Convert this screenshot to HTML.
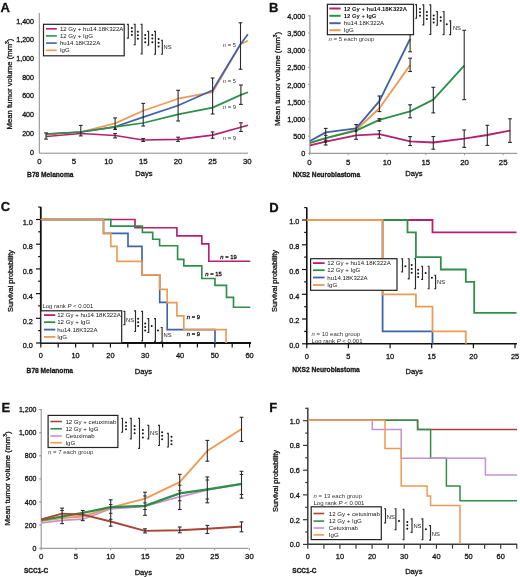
<!DOCTYPE html>
<html><head><meta charset="utf-8"><style>
html,body{margin:0;padding:0;background:#fff;width:520px;height:577px;overflow:hidden}
svg{display:block;will-change:transform}
text{font-family:"Liberation Sans", sans-serif;stroke:#111;stroke-width:0.3px}
.light{stroke:none}
.thin{stroke-width:0.12px}
</style></head><body>
<svg width="520" height="577" viewBox="0 0 520 577">
<rect width="520" height="577" fill="#fff"/>
<text x="0.6" y="11.6" font-size="13" text-anchor="start" font-weight="bold" font-style="normal" fill="#111">A</text>
<line x1="39.3" y1="13.0" x2="39.3" y2="153.2" stroke="#8a8a8a" stroke-width="1"/>
<line x1="39.3" y1="153.2" x2="248.0" y2="153.2" stroke="#8a8a8a" stroke-width="1"/>
<text x="34.0" y="154.5" font-size="7.1" text-anchor="end" font-weight="normal" font-style="normal" fill="#222222">0</text>
<text x="34.0" y="135.8" font-size="7.1" text-anchor="end" font-weight="normal" font-style="normal" fill="#222222">200</text>
<text x="34.0" y="117.1" font-size="7.1" text-anchor="end" font-weight="normal" font-style="normal" fill="#222222">400</text>
<text x="34.0" y="98.3" font-size="7.1" text-anchor="end" font-weight="normal" font-style="normal" fill="#222222">600</text>
<text x="34.0" y="79.6" font-size="7.1" text-anchor="end" font-weight="normal" font-style="normal" fill="#222222">800</text>
<text x="34.0" y="60.9" font-size="7.1" text-anchor="end" font-weight="normal" font-style="normal" fill="#222222">1,000</text>
<text x="34.0" y="42.2" font-size="7.1" text-anchor="end" font-weight="normal" font-style="normal" fill="#222222">1,200</text>
<text x="34.0" y="23.5" font-size="7.1" text-anchor="end" font-weight="normal" font-style="normal" fill="#222222">1,400</text>
<text x="39.3" y="164.1" font-size="7.8" text-anchor="middle" font-weight="normal" font-style="normal" fill="#222222">0</text>
<text x="74.0" y="164.1" font-size="7.8" text-anchor="middle" font-weight="normal" font-style="normal" fill="#222222">5</text>
<text x="108.6" y="164.1" font-size="7.8" text-anchor="middle" font-weight="normal" font-style="normal" fill="#222222">10</text>
<text x="143.3" y="164.1" font-size="7.8" text-anchor="middle" font-weight="normal" font-style="normal" fill="#222222">15</text>
<text x="178.0" y="164.1" font-size="7.8" text-anchor="middle" font-weight="normal" font-style="normal" fill="#222222">20</text>
<text x="212.6" y="164.1" font-size="7.8" text-anchor="middle" font-weight="normal" font-style="normal" fill="#222222">25</text>
<text x="247.3" y="164.1" font-size="7.8" text-anchor="middle" font-weight="normal" font-style="normal" fill="#222222">30</text>
<text x="27.1" y="176.5" font-size="7.2" text-anchor="start" font-weight="bold" font-style="normal" fill="#222222" textLength="46.4" lengthAdjust="spacingAndGlyphs">B78 Melanoma</text>
<text x="144.0" y="175.7" font-size="7.6" text-anchor="middle" font-weight="normal" font-style="normal" fill="#222222">Days</text>
<text transform="translate(9.0,84.0) rotate(-90)" x="0" y="2.7" font-size="7.7" text-anchor="middle" fill="#222222">Mean tumor volume (mm<tspan font-size="5" dy="-2.5">3</tspan><tspan dy="2.5">)</tspan></text>
<polyline points="46.0,136.5 80.8,133.5 115.1,135.5 143.2,140.0 178.1,139.3 212.6,135.1 240.9,127.3 248.0,125.2" fill="none" stroke="#b62070" stroke-width="1.7" stroke-linejoin="round"/>
<polyline points="46.0,135.0 80.8,132.0 115.1,123.4 143.2,110.8 178.1,98.7 212.6,92.2 240.5,44.3 247.9,40.7" fill="none" stroke="#ec9a55" stroke-width="1.7" stroke-linejoin="round"/>
<polyline points="46.0,134.0 80.8,132.0 115.1,126.8 143.2,117.1 178.1,105.5 212.6,90.3 240.5,44.3 247.9,34.2" fill="none" stroke="#3f62a8" stroke-width="1.7" stroke-linejoin="round"/>
<polyline points="46.0,134.0 80.8,132.0 115.1,126.8 143.2,123.0 178.1,114.4 212.6,107.6 240.9,94.9 248.0,92.2" fill="none" stroke="#2e9048" stroke-width="1.7" stroke-linejoin="round"/>
<circle cx="115.1" cy="128.6" r="1.2" fill="#222"/>
<line x1="46.0" y1="132.9" x2="46.0" y2="139.1" stroke="#2a2a2a" stroke-width="1.1"/>
<line x1="44.1" y1="132.9" x2="47.9" y2="132.9" stroke="#2a2a2a" stroke-width="1.1"/>
<line x1="44.1" y1="139.1" x2="47.9" y2="139.1" stroke="#2a2a2a" stroke-width="1.1"/>
<line x1="80.8" y1="125.4" x2="80.8" y2="135.9" stroke="#2a2a2a" stroke-width="1.1"/>
<line x1="78.9" y1="125.4" x2="82.7" y2="125.4" stroke="#2a2a2a" stroke-width="1.1"/>
<line x1="78.9" y1="135.9" x2="82.7" y2="135.9" stroke="#2a2a2a" stroke-width="1.1"/>
<line x1="115.1" y1="117.9" x2="115.1" y2="129.4" stroke="#2a2a2a" stroke-width="1.1"/>
<line x1="113.2" y1="117.9" x2="117.0" y2="117.9" stroke="#2a2a2a" stroke-width="1.1"/>
<line x1="113.2" y1="129.4" x2="117.0" y2="129.4" stroke="#2a2a2a" stroke-width="1.1"/>
<line x1="115.1" y1="133.5" x2="115.1" y2="137.9" stroke="#2a2a2a" stroke-width="1.1"/>
<line x1="113.2" y1="133.5" x2="117.0" y2="133.5" stroke="#2a2a2a" stroke-width="1.1"/>
<line x1="113.2" y1="137.9" x2="117.0" y2="137.9" stroke="#2a2a2a" stroke-width="1.1"/>
<line x1="143.2" y1="103.4" x2="143.2" y2="126.0" stroke="#2a2a2a" stroke-width="1.1"/>
<line x1="141.3" y1="103.4" x2="145.1" y2="103.4" stroke="#2a2a2a" stroke-width="1.1"/>
<line x1="141.3" y1="126.0" x2="145.1" y2="126.0" stroke="#2a2a2a" stroke-width="1.1"/>
<line x1="143.2" y1="138.5" x2="143.2" y2="141.5" stroke="#2a2a2a" stroke-width="1.1"/>
<line x1="141.3" y1="138.5" x2="145.1" y2="138.5" stroke="#2a2a2a" stroke-width="1.1"/>
<line x1="141.3" y1="141.5" x2="145.1" y2="141.5" stroke="#2a2a2a" stroke-width="1.1"/>
<line x1="178.1" y1="90.3" x2="178.1" y2="121.0" stroke="#2a2a2a" stroke-width="1.1"/>
<line x1="176.2" y1="90.3" x2="180.0" y2="90.3" stroke="#2a2a2a" stroke-width="1.1"/>
<line x1="176.2" y1="121.0" x2="180.0" y2="121.0" stroke="#2a2a2a" stroke-width="1.1"/>
<line x1="178.1" y1="137.2" x2="178.1" y2="141.4" stroke="#2a2a2a" stroke-width="1.1"/>
<line x1="176.2" y1="137.2" x2="180.0" y2="137.2" stroke="#2a2a2a" stroke-width="1.1"/>
<line x1="176.2" y1="141.4" x2="180.0" y2="141.4" stroke="#2a2a2a" stroke-width="1.1"/>
<line x1="212.6" y1="78.0" x2="212.6" y2="114.0" stroke="#2a2a2a" stroke-width="1.1"/>
<line x1="210.7" y1="78.0" x2="214.5" y2="78.0" stroke="#2a2a2a" stroke-width="1.1"/>
<line x1="210.7" y1="114.0" x2="214.5" y2="114.0" stroke="#2a2a2a" stroke-width="1.1"/>
<line x1="212.6" y1="131.9" x2="212.6" y2="138.3" stroke="#2a2a2a" stroke-width="1.1"/>
<line x1="210.7" y1="131.9" x2="214.5" y2="131.9" stroke="#2a2a2a" stroke-width="1.1"/>
<line x1="210.7" y1="138.3" x2="214.5" y2="138.3" stroke="#2a2a2a" stroke-width="1.1"/>
<line x1="240.5" y1="22.8" x2="240.5" y2="69.2" stroke="#2a2a2a" stroke-width="1.1"/>
<line x1="238.6" y1="22.8" x2="242.4" y2="22.8" stroke="#2a2a2a" stroke-width="1.1"/>
<line x1="238.6" y1="69.2" x2="242.4" y2="69.2" stroke="#2a2a2a" stroke-width="1.1"/>
<line x1="240.9" y1="85.0" x2="240.9" y2="104.4" stroke="#2a2a2a" stroke-width="1.1"/>
<line x1="239.0" y1="85.0" x2="242.8" y2="85.0" stroke="#2a2a2a" stroke-width="1.1"/>
<line x1="239.0" y1="104.4" x2="242.8" y2="104.4" stroke="#2a2a2a" stroke-width="1.1"/>
<line x1="240.9" y1="122.8" x2="240.9" y2="131.5" stroke="#2a2a2a" stroke-width="1.1"/>
<line x1="239.0" y1="122.8" x2="242.8" y2="122.8" stroke="#2a2a2a" stroke-width="1.1"/>
<line x1="239.0" y1="131.5" x2="242.8" y2="131.5" stroke="#2a2a2a" stroke-width="1.1"/>
<text x="236.0" y="47.4" font-size="5.9" text-anchor="end" font-weight="normal" font-style="normal" fill="#333" class="light"><tspan font-style="italic">n</tspan> = 5</text>
<text x="236.0" y="82.6" font-size="5.9" text-anchor="end" font-weight="normal" font-style="normal" fill="#333" class="light"><tspan font-style="italic">n</tspan> = 5</text>
<text x="236.0" y="108.6" font-size="5.9" text-anchor="end" font-weight="normal" font-style="normal" fill="#333" class="light"><tspan font-style="italic">n</tspan> = 9</text>
<text x="236.0" y="140.4" font-size="5.9" text-anchor="end" font-weight="normal" font-style="normal" fill="#333" class="light"><tspan font-style="italic">n</tspan> = 9</text>
<rect x="43.5" y="24.3" width="80.7" height="31.5" fill="#fff" stroke="#222" stroke-width="1.2"/>
<line x1="46.0" y1="28.8" x2="56.8" y2="28.8" stroke="#b62070" stroke-width="1.6"/>
<text x="59.9" y="30.9" font-size="6.1" text-anchor="start" font-weight="normal" font-style="normal" fill="#151515" class="light">12 Gy + hu14.18K322A</text>
<line x1="46.0" y1="35.9" x2="56.8" y2="35.9" stroke="#2e9048" stroke-width="1.6"/>
<text x="59.9" y="38.0" font-size="6.1" text-anchor="start" font-weight="normal" font-style="normal" fill="#151515" class="light">12 Gy + IgG</text>
<line x1="46.0" y1="43.1" x2="56.8" y2="43.1" stroke="#3f62a8" stroke-width="1.6"/>
<text x="59.9" y="45.2" font-size="6.1" text-anchor="start" font-weight="normal" font-style="normal" fill="#151515" class="light">hu14.18K322A</text>
<line x1="46.0" y1="50.3" x2="56.8" y2="50.3" stroke="#ec9a55" stroke-width="1.6"/>
<text x="59.9" y="52.4" font-size="6.1" text-anchor="start" font-weight="normal" font-style="normal" fill="#151515" class="light">IgG</text>
<path d="M126.9,24.3 H128.3 V38.1 H126.9" fill="none" stroke="#2a2a2a" stroke-width="1.15"/>
<circle cx="131.9" cy="27.9" r="1.0" fill="#111"/>
<circle cx="131.9" cy="31.5" r="1.0" fill="#111"/>
<circle cx="131.9" cy="35.0" r="1.0" fill="#111"/>
<path d="M133.7,24.3 H135.1 V44.6 H133.7" fill="none" stroke="#2a2a2a" stroke-width="1.15"/>
<circle cx="137.9" cy="31.7" r="1.0" fill="#111"/>
<circle cx="137.9" cy="35.2" r="1.0" fill="#111"/>
<circle cx="137.9" cy="38.7" r="1.0" fill="#111"/>
<path d="M140.6,24.3 H142.0 V53.9 H140.6" fill="none" stroke="#2a2a2a" stroke-width="1.15"/>
<circle cx="145.2" cy="35.0" r="1.0" fill="#111"/>
<circle cx="145.2" cy="38.6" r="1.0" fill="#111"/>
<circle cx="145.2" cy="42.3" r="1.0" fill="#111"/>
<path d="M147.2,31.4 H148.6 V45.2 H147.2" fill="none" stroke="#2a2a2a" stroke-width="1.15"/>
<circle cx="152.3" cy="35.0" r="1.0" fill="#111"/>
<circle cx="152.3" cy="38.6" r="1.0" fill="#111"/>
<circle cx="152.3" cy="42.3" r="1.0" fill="#111"/>
<path d="M154.0,31.4 H155.4 V54.2 H154.0" fill="none" stroke="#2a2a2a" stroke-width="1.15"/>
<circle cx="158.6" cy="39.1" r="1.0" fill="#111"/>
<circle cx="158.6" cy="42.8" r="1.0" fill="#111"/>
<circle cx="158.6" cy="46.5" r="1.0" fill="#111"/>
<path d="M160.9,40.2 H162.3 V54.2 H160.9" fill="none" stroke="#2a2a2a" stroke-width="1.15"/>
<text x="163.5" y="48.7" font-size="5.8" text-anchor="start" font-weight="normal" font-style="normal" fill="#222" class="light">NS</text>
<text x="269.0" y="11.6" font-size="13" text-anchor="start" font-weight="bold" font-style="normal" fill="#111">B</text>
<line x1="309.9" y1="15.0" x2="309.9" y2="153.4" stroke="#9a9a9a" stroke-width="1.3"/>
<line x1="309.5" y1="153.4" x2="517.3" y2="153.4" stroke="#9a9a9a" stroke-width="1.3"/>
<line x1="307.9" y1="153.4" x2="309.5" y2="153.4" stroke="#9a9a9a" stroke-width="1"/>
<text x="305.4" y="156.3" font-size="7.3" text-anchor="end" font-weight="normal" font-style="normal" fill="#222222">0</text>
<line x1="307.9" y1="136.2" x2="309.5" y2="136.2" stroke="#9a9a9a" stroke-width="1"/>
<text x="305.4" y="139.1" font-size="7.3" text-anchor="end" font-weight="normal" font-style="normal" fill="#222222">500</text>
<line x1="307.9" y1="119.0" x2="309.5" y2="119.0" stroke="#9a9a9a" stroke-width="1"/>
<text x="305.4" y="121.9" font-size="7.3" text-anchor="end" font-weight="normal" font-style="normal" fill="#222222">1,000</text>
<line x1="307.9" y1="101.8" x2="309.5" y2="101.8" stroke="#9a9a9a" stroke-width="1"/>
<text x="305.4" y="104.7" font-size="7.3" text-anchor="end" font-weight="normal" font-style="normal" fill="#222222">1,500</text>
<line x1="307.9" y1="84.6" x2="309.5" y2="84.6" stroke="#9a9a9a" stroke-width="1"/>
<text x="305.4" y="87.5" font-size="7.3" text-anchor="end" font-weight="normal" font-style="normal" fill="#222222">2,000</text>
<line x1="307.9" y1="67.4" x2="309.5" y2="67.4" stroke="#9a9a9a" stroke-width="1"/>
<text x="305.4" y="70.3" font-size="7.3" text-anchor="end" font-weight="normal" font-style="normal" fill="#222222">2,500</text>
<line x1="307.9" y1="50.2" x2="309.5" y2="50.2" stroke="#9a9a9a" stroke-width="1"/>
<text x="305.4" y="53.1" font-size="7.3" text-anchor="end" font-weight="normal" font-style="normal" fill="#222222">3,000</text>
<line x1="307.9" y1="33.0" x2="309.5" y2="33.0" stroke="#9a9a9a" stroke-width="1"/>
<text x="305.4" y="35.9" font-size="7.3" text-anchor="end" font-weight="normal" font-style="normal" fill="#222222">3,500</text>
<line x1="307.9" y1="15.8" x2="309.5" y2="15.8" stroke="#9a9a9a" stroke-width="1"/>
<text x="305.4" y="18.7" font-size="7.3" text-anchor="end" font-weight="normal" font-style="normal" fill="#222222">4,000</text>
<line x1="309.5" y1="153.4" x2="309.5" y2="155.2" stroke="#9a9a9a" stroke-width="1"/>
<text x="309.5" y="165.2" font-size="7.8" text-anchor="middle" font-weight="normal" font-style="normal" fill="#222222">0</text>
<line x1="348.2" y1="153.4" x2="348.2" y2="155.2" stroke="#9a9a9a" stroke-width="1"/>
<text x="348.2" y="165.2" font-size="7.8" text-anchor="middle" font-weight="normal" font-style="normal" fill="#222222">5</text>
<line x1="387.0" y1="153.4" x2="387.0" y2="155.2" stroke="#9a9a9a" stroke-width="1"/>
<text x="387.0" y="165.2" font-size="7.8" text-anchor="middle" font-weight="normal" font-style="normal" fill="#222222">10</text>
<line x1="425.8" y1="153.4" x2="425.8" y2="155.2" stroke="#9a9a9a" stroke-width="1"/>
<text x="425.8" y="165.2" font-size="7.8" text-anchor="middle" font-weight="normal" font-style="normal" fill="#222222">15</text>
<line x1="464.5" y1="153.4" x2="464.5" y2="155.2" stroke="#9a9a9a" stroke-width="1"/>
<text x="464.5" y="165.2" font-size="7.8" text-anchor="middle" font-weight="normal" font-style="normal" fill="#222222">20</text>
<line x1="503.2" y1="153.4" x2="503.2" y2="155.2" stroke="#9a9a9a" stroke-width="1"/>
<text x="503.2" y="165.2" font-size="7.8" text-anchor="middle" font-weight="normal" font-style="normal" fill="#222222">25</text>
<text x="292.7" y="176.5" font-size="7.2" text-anchor="start" font-weight="bold" font-style="normal" fill="#222222" textLength="67.5" lengthAdjust="spacingAndGlyphs">NXS2 Neuroblastoma</text>
<text x="414.0" y="176.0" font-size="7.6" text-anchor="middle" font-weight="normal" font-style="normal" fill="#222222">Days</text>
<text transform="translate(277.0,78.9) rotate(-90)" x="0" y="2.8" font-size="8.0" text-anchor="middle" fill="#222222">Mean tumor volume (mm<tspan font-size="5" dy="-2.5">3</tspan><tspan dy="2.5">)</tspan></text>
<polyline points="310.0,145.4 325.7,141.6 356.1,135.3 379.4,134.1 410.1,141.4 433.3,142.5 464.2,138.6 487.3,135.0 510.0,130.6" fill="none" stroke="#b62070" stroke-width="1.85" stroke-linejoin="round"/>
<polyline points="310.0,142.8 325.7,138.1 356.1,130.0 379.4,108.2 410.1,65.1" fill="none" stroke="#ec9a55" stroke-width="1.85" stroke-linejoin="round"/>
<polyline points="310.0,142.8 325.7,138.1 356.1,130.7 379.4,119.8 410.1,111.4 433.3,99.7 464.2,65.7" fill="none" stroke="#2e9048" stroke-width="1.85" stroke-linejoin="round"/>
<polyline points="310.0,141.0 325.7,132.4 356.1,128.4 379.4,101.2 410.1,38.8" fill="none" stroke="#3f62a8" stroke-width="1.85" stroke-linejoin="round"/>
<rect x="324.5" y="140.4" width="2.4" height="2.4" fill="#222"/>
<rect x="354.9" y="129.8" width="2.4" height="2.4" fill="#222"/>
<line x1="323.9" y1="135.3" x2="327.5" y2="135.3" stroke="#2a2a2a" stroke-width="1.0"/>
<line x1="323.9" y1="140.2" x2="327.5" y2="140.2" stroke="#2a2a2a" stroke-width="1.0"/>
<line x1="325.7" y1="128.4" x2="325.7" y2="145.0" stroke="#2a2a2a" stroke-width="1.1"/>
<line x1="323.8" y1="128.4" x2="327.6" y2="128.4" stroke="#2a2a2a" stroke-width="1.1"/>
<line x1="323.8" y1="145.0" x2="327.6" y2="145.0" stroke="#2a2a2a" stroke-width="1.1"/>
<line x1="356.1" y1="124.6" x2="356.1" y2="139.3" stroke="#2a2a2a" stroke-width="1.1"/>
<line x1="354.2" y1="124.6" x2="358.0" y2="124.6" stroke="#2a2a2a" stroke-width="1.1"/>
<line x1="354.2" y1="139.3" x2="358.0" y2="139.3" stroke="#2a2a2a" stroke-width="1.1"/>
<line x1="379.4" y1="96.0" x2="379.4" y2="111.6" stroke="#2a2a2a" stroke-width="1.1"/>
<line x1="377.5" y1="96.0" x2="381.3" y2="96.0" stroke="#2a2a2a" stroke-width="1.1"/>
<line x1="377.5" y1="111.6" x2="381.3" y2="111.6" stroke="#2a2a2a" stroke-width="1.1"/>
<line x1="379.4" y1="118.6" x2="379.4" y2="121.2" stroke="#2a2a2a" stroke-width="1.1"/>
<line x1="377.5" y1="118.6" x2="381.3" y2="118.6" stroke="#2a2a2a" stroke-width="1.1"/>
<line x1="377.5" y1="121.2" x2="381.3" y2="121.2" stroke="#2a2a2a" stroke-width="1.1"/>
<line x1="379.4" y1="130.7" x2="379.4" y2="138.1" stroke="#2a2a2a" stroke-width="1.1"/>
<line x1="377.5" y1="130.7" x2="381.3" y2="130.7" stroke="#2a2a2a" stroke-width="1.1"/>
<line x1="377.5" y1="138.1" x2="381.3" y2="138.1" stroke="#2a2a2a" stroke-width="1.1"/>
<line x1="410.1" y1="26.3" x2="410.1" y2="51.8" stroke="#2a2a2a" stroke-width="1.1"/>
<line x1="408.2" y1="26.3" x2="412.0" y2="26.3" stroke="#2a2a2a" stroke-width="1.1"/>
<line x1="408.2" y1="51.8" x2="412.0" y2="51.8" stroke="#2a2a2a" stroke-width="1.1"/>
<line x1="410.1" y1="58.2" x2="410.1" y2="71.5" stroke="#2a2a2a" stroke-width="1.1"/>
<line x1="408.2" y1="58.2" x2="412.0" y2="58.2" stroke="#2a2a2a" stroke-width="1.1"/>
<line x1="408.2" y1="71.5" x2="412.0" y2="71.5" stroke="#2a2a2a" stroke-width="1.1"/>
<line x1="410.1" y1="104.8" x2="410.1" y2="117.8" stroke="#2a2a2a" stroke-width="1.1"/>
<line x1="408.2" y1="104.8" x2="412.0" y2="104.8" stroke="#2a2a2a" stroke-width="1.1"/>
<line x1="408.2" y1="117.8" x2="412.0" y2="117.8" stroke="#2a2a2a" stroke-width="1.1"/>
<line x1="410.1" y1="136.6" x2="410.1" y2="145.5" stroke="#2a2a2a" stroke-width="1.1"/>
<line x1="408.2" y1="136.6" x2="412.0" y2="136.6" stroke="#2a2a2a" stroke-width="1.1"/>
<line x1="408.2" y1="145.5" x2="412.0" y2="145.5" stroke="#2a2a2a" stroke-width="1.1"/>
<line x1="433.3" y1="87.3" x2="433.3" y2="112.9" stroke="#2a2a2a" stroke-width="1.1"/>
<line x1="431.4" y1="87.3" x2="435.2" y2="87.3" stroke="#2a2a2a" stroke-width="1.1"/>
<line x1="431.4" y1="112.9" x2="435.2" y2="112.9" stroke="#2a2a2a" stroke-width="1.1"/>
<line x1="433.3" y1="136.5" x2="433.3" y2="149.2" stroke="#2a2a2a" stroke-width="1.1"/>
<line x1="431.4" y1="136.5" x2="435.2" y2="136.5" stroke="#2a2a2a" stroke-width="1.1"/>
<line x1="431.4" y1="149.2" x2="435.2" y2="149.2" stroke="#2a2a2a" stroke-width="1.1"/>
<line x1="464.2" y1="30.3" x2="464.2" y2="99.6" stroke="#2a2a2a" stroke-width="1.1"/>
<line x1="462.3" y1="30.3" x2="466.1" y2="30.3" stroke="#2a2a2a" stroke-width="1.1"/>
<line x1="462.3" y1="99.6" x2="466.1" y2="99.6" stroke="#2a2a2a" stroke-width="1.1"/>
<line x1="464.2" y1="130.0" x2="464.2" y2="147.4" stroke="#2a2a2a" stroke-width="1.1"/>
<line x1="462.3" y1="130.0" x2="466.1" y2="130.0" stroke="#2a2a2a" stroke-width="1.1"/>
<line x1="462.3" y1="147.4" x2="466.1" y2="147.4" stroke="#2a2a2a" stroke-width="1.1"/>
<line x1="487.3" y1="125.3" x2="487.3" y2="145.4" stroke="#2a2a2a" stroke-width="1.1"/>
<line x1="485.4" y1="125.3" x2="489.2" y2="125.3" stroke="#2a2a2a" stroke-width="1.1"/>
<line x1="485.4" y1="145.4" x2="489.2" y2="145.4" stroke="#2a2a2a" stroke-width="1.1"/>
<line x1="510.0" y1="118.8" x2="510.0" y2="142.4" stroke="#2a2a2a" stroke-width="1.1"/>
<line x1="508.1" y1="118.8" x2="511.9" y2="118.8" stroke="#2a2a2a" stroke-width="1.1"/>
<line x1="508.1" y1="142.4" x2="511.9" y2="142.4" stroke="#2a2a2a" stroke-width="1.1"/>
<rect x="327.4" y="4.3" width="86.1" height="30.4" fill="#fff" stroke="#222" stroke-width="1.2"/>
<line x1="329.3" y1="8.5" x2="340.6" y2="8.5" stroke="#b62070" stroke-width="2"/>
<text x="343.8" y="10.6" font-size="5.917" text-anchor="start" font-weight="bold" font-style="normal" fill="#111" class="light">12 Gy + hu14.18K322A</text>
<line x1="329.3" y1="15.8" x2="340.6" y2="15.8" stroke="#2e9048" stroke-width="2"/>
<text x="343.8" y="17.9" font-size="5.917" text-anchor="start" font-weight="bold" font-style="normal" fill="#111" class="light">12 Gy + IgG</text>
<line x1="329.3" y1="23.2" x2="340.6" y2="23.2" stroke="#3f62a8" stroke-width="2"/>
<text x="343.8" y="25.3" font-size="6.1" text-anchor="start" font-weight="normal" font-style="normal" fill="#151515" class="light">hu14.18K322A</text>
<line x1="329.3" y1="30.2" x2="340.6" y2="30.2" stroke="#ec9a55" stroke-width="2"/>
<text x="343.8" y="32.3" font-size="6.1" text-anchor="start" font-weight="normal" font-style="normal" fill="#151515" class="light">IgG</text>
<text x="328.4" y="41.1" font-size="6.1" text-anchor="start" font-weight="normal" font-style="normal" fill="#3a3a3a" class="light"><tspan font-style="italic">n</tspan> = 5 each group</text>
<path d="M415.1,4.6 H416.5 V18.2 H415.1" fill="none" stroke="#2a2a2a" stroke-width="1.15"/>
<circle cx="420.0" cy="9.0" r="1.0" fill="#111"/>
<circle cx="420.0" cy="12.3" r="1.0" fill="#111"/>
<circle cx="420.0" cy="15.7" r="1.0" fill="#111"/>
<path d="M422.3,4.8 H423.7 V24.8 H422.3" fill="none" stroke="#2a2a2a" stroke-width="1.15"/>
<circle cx="426.9" cy="12.1" r="1.0" fill="#111"/>
<circle cx="426.9" cy="15.6" r="1.0" fill="#111"/>
<circle cx="426.9" cy="19.1" r="1.0" fill="#111"/>
<path d="M429.3,4.8 H430.7 V34.4 H429.3" fill="none" stroke="#2a2a2a" stroke-width="1.15"/>
<circle cx="433.7" cy="15.5" r="1.0" fill="#111"/>
<circle cx="433.7" cy="18.9" r="1.0" fill="#111"/>
<circle cx="433.7" cy="22.4" r="1.0" fill="#111"/>
<path d="M435.9,11.5 H437.3 V25.2 H435.9" fill="none" stroke="#2a2a2a" stroke-width="1.15"/>
<circle cx="440.7" cy="17.2" r="1.0" fill="#111"/>
<circle cx="440.7" cy="20.8" r="1.0" fill="#111"/>
<path d="M442.6,11.5 H444.0 V34.6 H442.6" fill="none" stroke="#2a2a2a" stroke-width="1.15"/>
<circle cx="446.8" cy="24.2" r="1.0" fill="#111"/>
<path d="M449.2,20.8 H450.6 V34.6 H449.2" fill="none" stroke="#2a2a2a" stroke-width="1.15"/>
<text x="452.9" y="29.5" font-size="5.8" text-anchor="start" font-weight="normal" font-style="normal" fill="#222" class="light">NS</text>
<text x="0.8" y="210.5" font-size="13" text-anchor="start" font-weight="bold" font-style="normal" fill="#111">C</text>
<line x1="40.8" y1="206.9" x2="40.8" y2="343.8" stroke="#111" stroke-width="1.8"/>
<line x1="40.0" y1="343.0" x2="251.0" y2="343.0" stroke="#111" stroke-width="1.8"/>
<line x1="36.0" y1="343.0" x2="40.8" y2="343.0" stroke="#111" stroke-width="1.2"/>
<text x="32.8" y="348.2" font-size="7.3" text-anchor="end" font-weight="normal" font-style="normal" fill="#222222">0.0</text>
<line x1="38.2" y1="330.6" x2="40.8" y2="330.6" stroke="#111" stroke-width="1.2"/>
<line x1="36.0" y1="318.3" x2="40.8" y2="318.3" stroke="#111" stroke-width="1.2"/>
<text x="32.8" y="323.5" font-size="7.3" text-anchor="end" font-weight="normal" font-style="normal" fill="#222222">0.2</text>
<line x1="38.2" y1="305.9" x2="40.8" y2="305.9" stroke="#111" stroke-width="1.2"/>
<line x1="36.0" y1="293.6" x2="40.8" y2="293.6" stroke="#111" stroke-width="1.2"/>
<text x="32.8" y="298.8" font-size="7.3" text-anchor="end" font-weight="normal" font-style="normal" fill="#222222">0.4</text>
<line x1="38.2" y1="281.2" x2="40.8" y2="281.2" stroke="#111" stroke-width="1.2"/>
<line x1="36.0" y1="268.9" x2="40.8" y2="268.9" stroke="#111" stroke-width="1.2"/>
<text x="32.8" y="274.1" font-size="7.3" text-anchor="end" font-weight="normal" font-style="normal" fill="#222222">0.6</text>
<line x1="38.2" y1="256.6" x2="40.8" y2="256.6" stroke="#111" stroke-width="1.2"/>
<line x1="36.0" y1="244.2" x2="40.8" y2="244.2" stroke="#111" stroke-width="1.2"/>
<text x="32.8" y="249.4" font-size="7.3" text-anchor="end" font-weight="normal" font-style="normal" fill="#222222">0.8</text>
<line x1="38.2" y1="231.8" x2="40.8" y2="231.8" stroke="#111" stroke-width="1.2"/>
<line x1="36.0" y1="219.5" x2="40.8" y2="219.5" stroke="#111" stroke-width="1.2"/>
<text x="32.8" y="224.7" font-size="7.3" text-anchor="end" font-weight="normal" font-style="normal" fill="#222222">1.0</text>
<line x1="38.2" y1="207.1" x2="40.8" y2="207.1" stroke="#111" stroke-width="1.2"/>
<line x1="40.8" y1="343.0" x2="40.8" y2="347.5" stroke="#111" stroke-width="1.2"/>
<line x1="58.2" y1="343.0" x2="58.2" y2="347.5" stroke="#111" stroke-width="1.2"/>
<line x1="75.6" y1="343.0" x2="75.6" y2="347.5" stroke="#111" stroke-width="1.2"/>
<line x1="93.0" y1="343.0" x2="93.0" y2="347.5" stroke="#111" stroke-width="1.2"/>
<line x1="110.4" y1="343.0" x2="110.4" y2="347.5" stroke="#111" stroke-width="1.2"/>
<line x1="127.8" y1="343.0" x2="127.8" y2="347.5" stroke="#111" stroke-width="1.2"/>
<line x1="145.2" y1="343.0" x2="145.2" y2="347.5" stroke="#111" stroke-width="1.2"/>
<line x1="162.6" y1="343.0" x2="162.6" y2="347.5" stroke="#111" stroke-width="1.2"/>
<line x1="180.0" y1="343.0" x2="180.0" y2="347.5" stroke="#111" stroke-width="1.2"/>
<line x1="197.4" y1="343.0" x2="197.4" y2="347.5" stroke="#111" stroke-width="1.2"/>
<line x1="214.8" y1="343.0" x2="214.8" y2="347.5" stroke="#111" stroke-width="1.2"/>
<line x1="232.2" y1="343.0" x2="232.2" y2="347.5" stroke="#111" stroke-width="1.2"/>
<line x1="249.6" y1="343.0" x2="249.6" y2="347.5" stroke="#111" stroke-width="1.2"/>
<text x="40.8" y="357.8" font-size="7.4" text-anchor="middle" font-weight="normal" font-style="normal" fill="#222222">0</text>
<text x="75.6" y="357.8" font-size="7.4" text-anchor="middle" font-weight="normal" font-style="normal" fill="#222222">10</text>
<text x="110.4" y="357.8" font-size="7.4" text-anchor="middle" font-weight="normal" font-style="normal" fill="#222222">20</text>
<text x="145.2" y="357.8" font-size="7.4" text-anchor="middle" font-weight="normal" font-style="normal" fill="#222222">30</text>
<text x="180.0" y="357.8" font-size="7.4" text-anchor="middle" font-weight="normal" font-style="normal" fill="#222222">40</text>
<text x="214.8" y="357.8" font-size="7.4" text-anchor="middle" font-weight="normal" font-style="normal" fill="#222222">50</text>
<text x="249.6" y="357.8" font-size="7.4" text-anchor="middle" font-weight="normal" font-style="normal" fill="#222222">60</text>
<text x="26.6" y="372.7" font-size="7.2" text-anchor="start" font-weight="bold" font-style="normal" fill="#222222" textLength="46.4" lengthAdjust="spacingAndGlyphs">B78 Melanoma</text>
<text x="143.5" y="374.2" font-size="7.6" text-anchor="middle" font-weight="normal" font-style="normal" fill="#222222">Days</text>
<text transform="translate(10.1,281.0) rotate(-90)" x="0" y="2.6" font-size="7.4" text-anchor="middle" fill="#222222">Survival probability</text>
<path d="M40.8,219.5 L135.0,219.5 L135.0,227.7 L176.9,227.7 L176.9,235.8 L201.8,235.8 L201.8,243.8 L208.8,243.8 L208.8,261.2 L250.3,261.2" fill="none" stroke="#b62070" stroke-width="1.65" stroke-linejoin="miter"/>
<path d="M40.8,219.5 L110.8,219.5 L110.8,226.1 L142.4,226.1 L142.4,232.3 L152.7,232.3 L152.7,239.2 L159.6,239.2 L159.6,245.7 L177.6,245.7 L177.6,259.3 L183.8,259.3 L183.8,265.8 L201.8,265.8 L201.8,278.5 L215.0,278.5 L215.0,285.4 L226.5,285.4 L226.5,297.3 L233.5,297.3 L233.5,307.2 L250.3,307.2" fill="none" stroke="#2e9048" stroke-width="1.65" stroke-linejoin="miter"/>
<path d="M40.8,219.5 L103.5,219.5 L103.5,233.3 L128.0,233.3 L128.0,246.4 L142.0,246.4 L142.0,274.9 L159.7,274.9 L159.7,302.4 L167.2,302.4 L167.2,329.6 L215.0,329.6 L215.0,343.0" fill="none" stroke="#3f62a8" stroke-width="1.65" stroke-linejoin="miter"/>
<path d="M40.8,219.5 L103.5,219.5 L103.5,233.3 L110.8,233.3 L110.8,246.4 L117.0,246.4 L117.0,261.4 L142.0,261.4 L142.0,274.9 L159.7,274.9 L159.7,289.3 L167.2,289.3 L167.2,302.6 L176.9,302.6 L176.9,315.8 L183.8,315.8 L183.8,329.6 L226.1,329.6 L226.1,343.0" fill="none" stroke="#ec9a55" stroke-width="1.65" stroke-linejoin="miter"/>
<text x="236.9" y="258.6" font-size="5.9" text-anchor="end" font-weight="normal" font-style="normal" fill="#222222"><tspan font-style="italic">n</tspan> = 19</text>
<text x="221.9" y="276.4" font-size="5.9" text-anchor="end" font-weight="normal" font-style="normal" fill="#222222"><tspan font-style="italic">n</tspan> = 15</text>
<text x="200.0" y="318.6" font-size="5.9" text-anchor="end" font-weight="normal" font-style="normal" fill="#222222"><tspan font-style="italic">n</tspan> = 9</text>
<text x="200.0" y="336.3" font-size="5.9" text-anchor="end" font-weight="normal" font-style="normal" fill="#222222"><tspan font-style="italic">n</tspan> = 9</text>
<text x="42.4" y="308.4" font-size="6.0" text-anchor="start" font-weight="normal" font-style="normal" fill="#2a2a2a" class="light">Log rank <tspan font-style="italic">P</tspan> &lt; 0.001</text>
<rect x="40.8" y="310.8" width="80.9" height="32.2" fill="#fff" stroke="#222" stroke-width="1.2"/>
<line x1="44.0" y1="315.1" x2="55.3" y2="315.1" stroke="#b62070" stroke-width="1.8"/>
<text x="57.2" y="317.2" font-size="6.1" text-anchor="start" font-weight="normal" font-style="normal" fill="#151515" class="light">12 Gy + hu14.18K322A</text>
<line x1="44.0" y1="322.2" x2="55.3" y2="322.2" stroke="#2e9048" stroke-width="1.8"/>
<text x="57.2" y="324.3" font-size="6.1" text-anchor="start" font-weight="normal" font-style="normal" fill="#151515" class="light">12 Gy + IgG</text>
<line x1="44.0" y1="329.6" x2="55.3" y2="329.6" stroke="#3f62a8" stroke-width="1.8"/>
<text x="57.2" y="331.7" font-size="6.1" text-anchor="start" font-weight="normal" font-style="normal" fill="#151515" class="light">hu14.18K322A</text>
<line x1="44.0" y1="336.9" x2="55.3" y2="336.9" stroke="#ec9a55" stroke-width="1.8"/>
<text x="57.2" y="339.0" font-size="6.1" text-anchor="start" font-weight="normal" font-style="normal" fill="#151515" class="light">IgG</text>
<path d="M134.1,310.8 H135.5 V331.5 H134.1" fill="none" stroke="#2a2a2a" stroke-width="1.15"/>
<circle cx="138.1" cy="318.8" r="1.0" fill="#111"/>
<circle cx="138.1" cy="322.3" r="1.0" fill="#111"/>
<circle cx="138.1" cy="326.0" r="1.0" fill="#111"/>
<path d="M141.1,311.3 H142.5 V341.0 H141.1" fill="none" stroke="#2a2a2a" stroke-width="1.15"/>
<circle cx="145.2" cy="323.5" r="1.0" fill="#111"/>
<circle cx="145.2" cy="326.9" r="1.0" fill="#111"/>
<circle cx="145.2" cy="330.6" r="1.0" fill="#111"/>
<path d="M147.3,318.6 H148.7 V332.5 H147.3" fill="none" stroke="#2a2a2a" stroke-width="1.15"/>
<circle cx="151.7" cy="326.1" r="1.0" fill="#111"/>
<path d="M154.0,318.6 H155.4 V341.3 H154.0" fill="none" stroke="#2a2a2a" stroke-width="1.15"/>
<circle cx="158.0" cy="330.6" r="1.0" fill="#111"/>
<path d="M123.4,311.3 H124.8 V324.6 H123.4" fill="none" stroke="#2a2a2a" stroke-width="1.15"/>
<text x="126.0" y="321.8" font-size="5.8" text-anchor="start" font-weight="normal" font-style="normal" fill="#222" class="light">NS</text>
<path d="M160.7,327.5 H162.1 V341.7 H160.7" fill="none" stroke="#2a2a2a" stroke-width="1.15"/>
<text x="163.5" y="337.2" font-size="5.8" text-anchor="start" font-weight="normal" font-style="normal" fill="#222" class="light">NS</text>
<text x="269.3" y="211.6" font-size="13" text-anchor="start" font-weight="bold" font-style="normal" fill="#111">D</text>
<line x1="306.8" y1="207.5" x2="306.8" y2="344.6" stroke="#111" stroke-width="1.6"/>
<line x1="306.0" y1="343.8" x2="517.0" y2="343.8" stroke="#111" stroke-width="1.6"/>
<line x1="302.0" y1="343.8" x2="306.8" y2="343.8" stroke="#111" stroke-width="1.2"/>
<text x="299.4" y="348.2" font-size="7.3" text-anchor="end" font-weight="normal" font-style="normal" fill="#222222">0.0</text>
<line x1="304.2" y1="331.4" x2="306.8" y2="331.4" stroke="#111" stroke-width="1.2"/>
<line x1="302.0" y1="319.0" x2="306.8" y2="319.0" stroke="#111" stroke-width="1.2"/>
<text x="299.4" y="323.4" font-size="7.3" text-anchor="end" font-weight="normal" font-style="normal" fill="#222222">0.2</text>
<line x1="304.2" y1="306.7" x2="306.8" y2="306.7" stroke="#111" stroke-width="1.2"/>
<line x1="302.0" y1="294.3" x2="306.8" y2="294.3" stroke="#111" stroke-width="1.2"/>
<text x="299.4" y="298.6" font-size="7.3" text-anchor="end" font-weight="normal" font-style="normal" fill="#222222">0.4</text>
<line x1="304.2" y1="281.9" x2="306.8" y2="281.9" stroke="#111" stroke-width="1.2"/>
<line x1="302.0" y1="269.5" x2="306.8" y2="269.5" stroke="#111" stroke-width="1.2"/>
<text x="299.4" y="273.9" font-size="7.3" text-anchor="end" font-weight="normal" font-style="normal" fill="#222222">0.6</text>
<line x1="304.2" y1="257.1" x2="306.8" y2="257.1" stroke="#111" stroke-width="1.2"/>
<line x1="302.0" y1="244.8" x2="306.8" y2="244.8" stroke="#111" stroke-width="1.2"/>
<text x="299.4" y="249.1" font-size="7.3" text-anchor="end" font-weight="normal" font-style="normal" fill="#222222">0.8</text>
<line x1="304.2" y1="232.4" x2="306.8" y2="232.4" stroke="#111" stroke-width="1.2"/>
<line x1="302.0" y1="220.0" x2="306.8" y2="220.0" stroke="#111" stroke-width="1.2"/>
<text x="299.4" y="224.4" font-size="7.3" text-anchor="end" font-weight="normal" font-style="normal" fill="#222222">1.0</text>
<line x1="304.2" y1="207.6" x2="306.8" y2="207.6" stroke="#111" stroke-width="1.2"/>
<line x1="306.8" y1="343.8" x2="306.8" y2="348.3" stroke="#111" stroke-width="1.2"/>
<line x1="348.4" y1="343.8" x2="348.4" y2="348.3" stroke="#111" stroke-width="1.2"/>
<line x1="390.1" y1="343.8" x2="390.1" y2="348.3" stroke="#111" stroke-width="1.2"/>
<line x1="431.7" y1="343.8" x2="431.7" y2="348.3" stroke="#111" stroke-width="1.2"/>
<line x1="473.4" y1="343.8" x2="473.4" y2="348.3" stroke="#111" stroke-width="1.2"/>
<line x1="515.0" y1="343.8" x2="515.0" y2="348.3" stroke="#111" stroke-width="1.2"/>
<text x="306.8" y="358.6" font-size="7.4" text-anchor="middle" font-weight="normal" font-style="normal" fill="#222222">0</text>
<text x="348.4" y="358.6" font-size="7.4" text-anchor="middle" font-weight="normal" font-style="normal" fill="#222222">5</text>
<text x="390.1" y="358.6" font-size="7.4" text-anchor="middle" font-weight="normal" font-style="normal" fill="#222222">10</text>
<text x="431.7" y="358.6" font-size="7.4" text-anchor="middle" font-weight="normal" font-style="normal" fill="#222222">15</text>
<text x="473.4" y="358.6" font-size="7.4" text-anchor="middle" font-weight="normal" font-style="normal" fill="#222222">20</text>
<text x="515.0" y="358.6" font-size="7.4" text-anchor="middle" font-weight="normal" font-style="normal" fill="#222222">25</text>
<text x="292.3" y="372.3" font-size="7.2" text-anchor="start" font-weight="bold" font-style="normal" fill="#222222" textLength="67.5" lengthAdjust="spacingAndGlyphs">NXS2 Neuroblastoma</text>
<text x="414.2" y="373.7" font-size="7.6" text-anchor="middle" font-weight="normal" font-style="normal" fill="#222222">Days</text>
<text transform="translate(274.3,281.0) rotate(-90)" x="0" y="2.6" font-size="7.4" text-anchor="middle" fill="#222222">Survival probability</text>
<path d="M306.8,220.0 L432.5,220.0 L432.5,232.4 L516.5,232.4" fill="none" stroke="#b62070" stroke-width="1.8" stroke-linejoin="miter"/>
<path d="M306.8,220.0 L407.5,220.0 L407.5,232.4 L415.9,232.4 L415.9,257.1 L440.8,257.1 L440.8,269.5 L465.8,269.5 L465.8,281.9 L474.2,281.9 L474.2,312.9 L516.5,312.9" fill="none" stroke="#2e9048" stroke-width="1.8" stroke-linejoin="miter"/>
<path d="M306.8,220.0 L382.6,220.0 L382.6,331.4 L432.5,331.4 L432.5,343.8" fill="none" stroke="#3f62a8" stroke-width="1.8" stroke-linejoin="miter"/>
<path d="M306.8,220.0 L382.6,220.0 L382.6,294.3 L415.9,294.3 L415.9,306.7 L432.5,306.7 L432.5,331.4 L465.8,331.4 L465.8,343.8" fill="none" stroke="#ec9a55" stroke-width="1.8" stroke-linejoin="miter"/>
<rect x="310.6" y="258.7" width="86.4" height="31.6" fill="#fff" stroke="#222" stroke-width="1.2"/>
<line x1="313.0" y1="263.1" x2="324.6" y2="263.1" stroke="#b62070" stroke-width="1.8"/>
<text x="327.3" y="265.2" font-size="6.1" text-anchor="start" font-weight="normal" font-style="normal" fill="#151515" class="light">12 Gy + hu14.18K322A</text>
<line x1="313.0" y1="270.2" x2="324.6" y2="270.2" stroke="#2e9048" stroke-width="1.8"/>
<text x="327.3" y="272.3" font-size="6.1" text-anchor="start" font-weight="normal" font-style="normal" fill="#151515" class="light">12 Gy + IgG</text>
<line x1="313.0" y1="277.5" x2="324.6" y2="277.5" stroke="#3f62a8" stroke-width="1.8"/>
<text x="327.3" y="279.6" font-size="6.1" text-anchor="start" font-weight="normal" font-style="normal" fill="#151515" class="light">hu14.18K322A</text>
<line x1="313.0" y1="285.0" x2="324.6" y2="285.0" stroke="#ec9a55" stroke-width="1.8"/>
<text x="327.3" y="287.1" font-size="6.1" text-anchor="start" font-weight="normal" font-style="normal" fill="#151515" class="light">IgG</text>
<text x="311.6" y="336.2" font-size="6.0" text-anchor="start" font-weight="normal" font-style="normal" fill="#3a3a3a" class="light"><tspan font-style="italic">n</tspan> = 10 each group</text>
<text x="311.6" y="342.7" font-size="6.0" text-anchor="start" font-weight="normal" font-style="normal" fill="#2a2a2a" class="light">Log rank <tspan font-style="italic">P</tspan> &lt; 0.001</text>
<path d="M401.1,258.7 H402.5 V271.9 H401.1" fill="none" stroke="#2a2a2a" stroke-width="1.15"/>
<circle cx="405.4" cy="266.2" r="1.0" fill="#111"/>
<path d="M407.7,258.7 H409.1 V278.8 H407.7" fill="none" stroke="#2a2a2a" stroke-width="1.15"/>
<circle cx="411.7" cy="265.0" r="1.0" fill="#111"/>
<circle cx="411.7" cy="269.0" r="1.0" fill="#111"/>
<circle cx="411.7" cy="272.7" r="1.0" fill="#111"/>
<path d="M414.1,258.7 H415.5 V288.7 H414.1" fill="none" stroke="#2a2a2a" stroke-width="1.15"/>
<circle cx="418.1" cy="269.8" r="1.0" fill="#111"/>
<circle cx="418.1" cy="273.4" r="1.0" fill="#111"/>
<circle cx="418.1" cy="277.1" r="1.0" fill="#111"/>
<path d="M421.1,266.2 H422.5 V279.4 H421.1" fill="none" stroke="#2a2a2a" stroke-width="1.15"/>
<circle cx="425.6" cy="273.1" r="1.0" fill="#111"/>
<path d="M427.6,266.2 H429.0 V288.7 H427.6" fill="none" stroke="#2a2a2a" stroke-width="1.15"/>
<circle cx="431.9" cy="277.7" r="1.0" fill="#111"/>
<path d="M434.2,275.2 H435.6 V288.7 H434.2" fill="none" stroke="#2a2a2a" stroke-width="1.15"/>
<text x="437.1" y="284.3" font-size="5.8" text-anchor="start" font-weight="normal" font-style="normal" fill="#222" class="light">NS</text>
<text x="1.5" y="411.6" font-size="13" text-anchor="start" font-weight="bold" font-style="normal" fill="#111">E</text>
<line x1="41.2" y1="409.0" x2="41.2" y2="548.3" stroke="#8a8a8a" stroke-width="1"/>
<line x1="41.2" y1="548.3" x2="248.5" y2="548.3" stroke="#8a8a8a" stroke-width="1"/>
<line x1="39.2" y1="548.2" x2="41.2" y2="548.2" stroke="#8a8a8a" stroke-width="1"/>
<text x="36.5" y="550.7" font-size="7" text-anchor="end" font-weight="normal" font-style="normal" fill="#222222">0</text>
<line x1="39.2" y1="525.1" x2="41.2" y2="525.1" stroke="#8a8a8a" stroke-width="1"/>
<text x="36.5" y="527.6" font-size="7" text-anchor="end" font-weight="normal" font-style="normal" fill="#222222">200</text>
<line x1="39.2" y1="502.0" x2="41.2" y2="502.0" stroke="#8a8a8a" stroke-width="1"/>
<text x="36.5" y="504.5" font-size="7" text-anchor="end" font-weight="normal" font-style="normal" fill="#222222">400</text>
<line x1="39.2" y1="478.9" x2="41.2" y2="478.9" stroke="#8a8a8a" stroke-width="1"/>
<text x="36.5" y="481.4" font-size="7" text-anchor="end" font-weight="normal" font-style="normal" fill="#222222">600</text>
<line x1="39.2" y1="455.8" x2="41.2" y2="455.8" stroke="#8a8a8a" stroke-width="1"/>
<text x="36.5" y="458.3" font-size="7" text-anchor="end" font-weight="normal" font-style="normal" fill="#222222">800</text>
<line x1="39.2" y1="432.7" x2="41.2" y2="432.7" stroke="#8a8a8a" stroke-width="1"/>
<text x="36.5" y="435.2" font-size="7" text-anchor="end" font-weight="normal" font-style="normal" fill="#222222">1,000</text>
<line x1="39.2" y1="409.6" x2="41.2" y2="409.6" stroke="#8a8a8a" stroke-width="1"/>
<text x="36.5" y="412.1" font-size="7" text-anchor="end" font-weight="normal" font-style="normal" fill="#222222">1,200</text>
<line x1="41.2" y1="548.3" x2="41.2" y2="550.1" stroke="#8a8a8a" stroke-width="1"/>
<text x="41.2" y="559.4" font-size="7.8" text-anchor="middle" font-weight="normal" font-style="normal" fill="#222222">0</text>
<line x1="75.9" y1="548.3" x2="75.9" y2="550.1" stroke="#8a8a8a" stroke-width="1"/>
<text x="75.9" y="559.4" font-size="7.8" text-anchor="middle" font-weight="normal" font-style="normal" fill="#222222">5</text>
<line x1="110.6" y1="548.3" x2="110.6" y2="550.1" stroke="#8a8a8a" stroke-width="1"/>
<text x="110.6" y="559.4" font-size="7.8" text-anchor="middle" font-weight="normal" font-style="normal" fill="#222222">10</text>
<line x1="145.3" y1="548.3" x2="145.3" y2="550.1" stroke="#8a8a8a" stroke-width="1"/>
<text x="145.3" y="559.4" font-size="7.8" text-anchor="middle" font-weight="normal" font-style="normal" fill="#222222">15</text>
<line x1="180.0" y1="548.3" x2="180.0" y2="550.1" stroke="#8a8a8a" stroke-width="1"/>
<text x="180.0" y="559.4" font-size="7.8" text-anchor="middle" font-weight="normal" font-style="normal" fill="#222222">20</text>
<line x1="214.7" y1="548.3" x2="214.7" y2="550.1" stroke="#8a8a8a" stroke-width="1"/>
<text x="214.7" y="559.4" font-size="7.8" text-anchor="middle" font-weight="normal" font-style="normal" fill="#222222">25</text>
<line x1="249.4" y1="548.3" x2="249.4" y2="550.1" stroke="#8a8a8a" stroke-width="1"/>
<text x="249.4" y="559.4" font-size="7.8" text-anchor="middle" font-weight="normal" font-style="normal" fill="#222222">30</text>
<text x="24.0" y="572.5" font-size="7.2" text-anchor="start" font-weight="bold" font-style="normal" fill="#222222" textLength="24.2" lengthAdjust="spacingAndGlyphs">SCC1-C</text>
<text x="143.3" y="574.6" font-size="7.6" text-anchor="middle" font-weight="normal" font-style="normal" fill="#222222">Days</text>
<text transform="translate(6.7,478.5) rotate(-90)" x="0" y="2.8" font-size="8.0" text-anchor="middle" fill="#222222">Mean tumor volume (mm<tspan font-size="5" dy="-2.5">3</tspan><tspan dy="2.5">)</tspan></text>
<polyline points="41.2,523.0 62.0,520.3 82.8,519.2 110.7,508.8 145.0,506.3 179.7,496.8 207.5,490.0 242.0,483.8" fill="none" stroke="#c292d2" stroke-width="1.7" stroke-linejoin="round"/>
<polyline points="41.2,521.0 62.0,518.0 82.8,516.5 110.7,507.7 145.0,498.6 179.7,482.1 207.5,450.8 242.0,428.8" fill="none" stroke="#ec9a55" stroke-width="1.9" stroke-linejoin="round"/>
<polyline points="41.2,520.2 62.0,516.5 82.8,512.9 110.7,507.2 145.0,505.9 179.7,493.4 207.5,489.3 242.0,483.8" fill="none" stroke="#2e9048" stroke-width="2.2" stroke-linejoin="round"/>
<polyline points="41.2,519.4 62.0,513.6 82.8,514.7 110.7,521.5 145.0,530.9 179.7,530.2 207.5,528.8 242.0,526.5" fill="none" stroke="#a84436" stroke-width="1.9" stroke-linejoin="round"/>
<line x1="62.1" y1="508.1" x2="62.1" y2="523.6" stroke="#2a2a2a" stroke-width="1.1"/>
<line x1="60.2" y1="508.1" x2="64.0" y2="508.1" stroke="#2a2a2a" stroke-width="1.1"/>
<line x1="60.2" y1="523.6" x2="64.0" y2="523.6" stroke="#2a2a2a" stroke-width="1.1"/>
<line x1="82.7" y1="510.5" x2="82.7" y2="520.6" stroke="#2a2a2a" stroke-width="1.1"/>
<line x1="80.8" y1="510.5" x2="84.6" y2="510.5" stroke="#2a2a2a" stroke-width="1.1"/>
<line x1="80.8" y1="520.6" x2="84.6" y2="520.6" stroke="#2a2a2a" stroke-width="1.1"/>
<line x1="110.7" y1="499.8" x2="110.7" y2="526.2" stroke="#2a2a2a" stroke-width="1.1"/>
<line x1="108.8" y1="499.8" x2="112.6" y2="499.8" stroke="#2a2a2a" stroke-width="1.1"/>
<line x1="108.8" y1="526.2" x2="112.6" y2="526.2" stroke="#2a2a2a" stroke-width="1.1"/>
<line x1="145.0" y1="492.2" x2="145.0" y2="515.3" stroke="#2a2a2a" stroke-width="1.1"/>
<line x1="143.1" y1="492.2" x2="146.9" y2="492.2" stroke="#2a2a2a" stroke-width="1.1"/>
<line x1="143.1" y1="515.3" x2="146.9" y2="515.3" stroke="#2a2a2a" stroke-width="1.1"/>
<line x1="145.0" y1="528.8" x2="145.0" y2="532.9" stroke="#2a2a2a" stroke-width="1.1"/>
<line x1="143.1" y1="528.8" x2="146.9" y2="528.8" stroke="#2a2a2a" stroke-width="1.1"/>
<line x1="143.1" y1="532.9" x2="146.9" y2="532.9" stroke="#2a2a2a" stroke-width="1.1"/>
<line x1="179.7" y1="474.3" x2="179.7" y2="509.5" stroke="#2a2a2a" stroke-width="1.1"/>
<line x1="177.8" y1="474.3" x2="181.6" y2="474.3" stroke="#2a2a2a" stroke-width="1.1"/>
<line x1="177.8" y1="509.5" x2="181.6" y2="509.5" stroke="#2a2a2a" stroke-width="1.1"/>
<line x1="179.7" y1="527.0" x2="179.7" y2="532.8" stroke="#2a2a2a" stroke-width="1.1"/>
<line x1="177.8" y1="527.0" x2="181.6" y2="527.0" stroke="#2a2a2a" stroke-width="1.1"/>
<line x1="177.8" y1="532.8" x2="181.6" y2="532.8" stroke="#2a2a2a" stroke-width="1.1"/>
<line x1="207.3" y1="440.4" x2="207.3" y2="461.2" stroke="#2a2a2a" stroke-width="1.1"/>
<line x1="205.4" y1="440.4" x2="209.2" y2="440.4" stroke="#2a2a2a" stroke-width="1.1"/>
<line x1="205.4" y1="461.2" x2="209.2" y2="461.2" stroke="#2a2a2a" stroke-width="1.1"/>
<line x1="207.3" y1="476.9" x2="207.3" y2="502.8" stroke="#2a2a2a" stroke-width="1.1"/>
<line x1="205.4" y1="476.9" x2="209.2" y2="476.9" stroke="#2a2a2a" stroke-width="1.1"/>
<line x1="205.4" y1="502.8" x2="209.2" y2="502.8" stroke="#2a2a2a" stroke-width="1.1"/>
<line x1="207.3" y1="525.4" x2="207.3" y2="533.5" stroke="#2a2a2a" stroke-width="1.1"/>
<line x1="205.4" y1="525.4" x2="209.2" y2="525.4" stroke="#2a2a2a" stroke-width="1.1"/>
<line x1="205.4" y1="533.5" x2="209.2" y2="533.5" stroke="#2a2a2a" stroke-width="1.1"/>
<line x1="241.5" y1="417.3" x2="241.5" y2="441.5" stroke="#2a2a2a" stroke-width="1.1"/>
<line x1="239.6" y1="417.3" x2="243.4" y2="417.3" stroke="#2a2a2a" stroke-width="1.1"/>
<line x1="239.6" y1="441.5" x2="243.4" y2="441.5" stroke="#2a2a2a" stroke-width="1.1"/>
<line x1="241.5" y1="471.3" x2="241.5" y2="498.2" stroke="#2a2a2a" stroke-width="1.1"/>
<line x1="239.6" y1="471.3" x2="243.4" y2="471.3" stroke="#2a2a2a" stroke-width="1.1"/>
<line x1="239.6" y1="498.2" x2="243.4" y2="498.2" stroke="#2a2a2a" stroke-width="1.1"/>
<line x1="241.5" y1="521.9" x2="241.5" y2="531.8" stroke="#2a2a2a" stroke-width="1.1"/>
<line x1="239.6" y1="521.9" x2="243.4" y2="521.9" stroke="#2a2a2a" stroke-width="1.1"/>
<line x1="239.6" y1="531.8" x2="243.4" y2="531.8" stroke="#2a2a2a" stroke-width="1.1"/>
<line x1="60.3" y1="510.5" x2="63.9" y2="510.5" stroke="#2a2a2a" stroke-width="1.0"/>
<line x1="108.9" y1="504.6" x2="112.5" y2="504.6" stroke="#2a2a2a" stroke-width="1.0"/>
<line x1="108.9" y1="513.3" x2="112.5" y2="513.3" stroke="#2a2a2a" stroke-width="1.0"/>
<line x1="108.9" y1="519.3" x2="112.5" y2="519.3" stroke="#2a2a2a" stroke-width="1.0"/>
<line x1="143.2" y1="496.0" x2="146.8" y2="496.0" stroke="#2a2a2a" stroke-width="1.0"/>
<line x1="143.2" y1="502.9" x2="146.8" y2="502.9" stroke="#2a2a2a" stroke-width="1.0"/>
<line x1="143.2" y1="509.5" x2="146.8" y2="509.5" stroke="#2a2a2a" stroke-width="1.0"/>
<line x1="177.9" y1="485.2" x2="181.5" y2="485.2" stroke="#2a2a2a" stroke-width="1.0"/>
<line x1="177.9" y1="490.8" x2="181.5" y2="490.8" stroke="#2a2a2a" stroke-width="1.0"/>
<line x1="177.9" y1="500.8" x2="181.5" y2="500.8" stroke="#2a2a2a" stroke-width="1.0"/>
<line x1="205.5" y1="480.0" x2="209.1" y2="480.0" stroke="#2a2a2a" stroke-width="1.0"/>
<line x1="205.5" y1="499.0" x2="209.1" y2="499.0" stroke="#2a2a2a" stroke-width="1.0"/>
<line x1="239.7" y1="474.5" x2="243.3" y2="474.5" stroke="#2a2a2a" stroke-width="1.0"/>
<line x1="239.7" y1="494.5" x2="243.3" y2="494.5" stroke="#2a2a2a" stroke-width="1.0"/>
<rect x="48.1" y="415.4" width="69.8" height="32.1" fill="#fff" stroke="#222" stroke-width="1.2"/>
<line x1="50.4" y1="421.5" x2="61.9" y2="421.5" stroke="#a84436" stroke-width="1.6"/>
<text x="65.4" y="423.6" font-size="6.1" text-anchor="start" font-weight="normal" font-style="normal" fill="#151515" class="light">12 Gy + cetuximab</text>
<line x1="50.4" y1="428.8" x2="61.9" y2="428.8" stroke="#2e9048" stroke-width="1.6"/>
<text x="65.4" y="430.9" font-size="6.1" text-anchor="start" font-weight="normal" font-style="normal" fill="#151515" class="light">12 Gy + IgG</text>
<line x1="50.4" y1="436.0" x2="61.9" y2="436.0" stroke="#c292d2" stroke-width="1.6"/>
<text x="65.4" y="438.1" font-size="6.1" text-anchor="start" font-weight="normal" font-style="normal" fill="#151515" class="light">Cetuximab</text>
<line x1="50.4" y1="442.7" x2="61.9" y2="442.7" stroke="#ec9a55" stroke-width="1.6"/>
<text x="65.4" y="444.8" font-size="6.1" text-anchor="start" font-weight="normal" font-style="normal" fill="#151515" class="light">IgG</text>
<text x="48.1" y="454.4" font-size="6.0" text-anchor="start" font-weight="normal" font-style="normal" fill="#3a3a3a" class="light"><tspan font-style="italic">n</tspan> = 7 each group</text>
<path d="M121.1,418.2 H122.5 V432.2 H121.1" fill="none" stroke="#2a2a2a" stroke-width="1.15"/>
<circle cx="126.0" cy="422.4" r="1.0" fill="#111"/>
<circle cx="126.0" cy="425.9" r="1.0" fill="#111"/>
<circle cx="126.0" cy="429.3" r="1.0" fill="#111"/>
<path d="M129.8,418.4 H131.2 V438.9 H129.8" fill="none" stroke="#2a2a2a" stroke-width="1.15"/>
<circle cx="134.6" cy="425.9" r="1.0" fill="#111"/>
<circle cx="134.6" cy="429.6" r="1.0" fill="#111"/>
<circle cx="134.6" cy="433.2" r="1.0" fill="#111"/>
<path d="M138.1,418.4 H139.5 V448.4 H138.1" fill="none" stroke="#2a2a2a" stroke-width="1.15"/>
<circle cx="142.9" cy="429.9" r="1.0" fill="#111"/>
<circle cx="142.9" cy="433.6" r="1.0" fill="#111"/>
<circle cx="142.9" cy="437.4" r="1.0" fill="#111"/>
<path d="M158.0,425.3 H159.4 V445.5 H158.0" fill="none" stroke="#2a2a2a" stroke-width="1.15"/>
<circle cx="162.1" cy="432.2" r="1.0" fill="#111"/>
<circle cx="162.1" cy="435.7" r="1.0" fill="#111"/>
<circle cx="162.1" cy="439.2" r="1.0" fill="#111"/>
<path d="M166.9,433.4 H168.3 V447.0 H166.9" fill="none" stroke="#2a2a2a" stroke-width="1.15"/>
<circle cx="171.5" cy="436.8" r="1.0" fill="#111"/>
<circle cx="171.5" cy="440.7" r="1.0" fill="#111"/>
<circle cx="171.5" cy="444.3" r="1.0" fill="#111"/>
<path d="M147.3,425.3 H148.7 V438.9 H147.3" fill="none" stroke="#2a2a2a" stroke-width="1.15"/>
<text x="150.0" y="434.8" font-size="5.8" text-anchor="start" font-weight="normal" font-style="normal" fill="#222" class="light">NS</text>
<text x="269.3" y="411.7" font-size="13" text-anchor="start" font-weight="bold" font-style="normal" fill="#111">F</text>
<line x1="307.8" y1="407.7" x2="307.8" y2="545.0" stroke="#3a3a3a" stroke-width="1.5"/>
<line x1="307.0" y1="544.2" x2="517.1" y2="544.2" stroke="#3a3a3a" stroke-width="1.5"/>
<line x1="303.0" y1="544.4" x2="307.8" y2="544.4" stroke="#3a3a3a" stroke-width="1.2"/>
<text x="299.8" y="547.4" font-size="7.3" text-anchor="end" font-weight="normal" font-style="normal" fill="#222222">0.0</text>
<line x1="305.2" y1="532.0" x2="307.8" y2="532.0" stroke="#3a3a3a" stroke-width="1.2"/>
<line x1="303.0" y1="519.7" x2="307.8" y2="519.7" stroke="#3a3a3a" stroke-width="1.2"/>
<text x="299.8" y="522.6" font-size="7.3" text-anchor="end" font-weight="normal" font-style="normal" fill="#222222">0.2</text>
<line x1="305.2" y1="507.3" x2="307.8" y2="507.3" stroke="#3a3a3a" stroke-width="1.2"/>
<line x1="303.0" y1="494.9" x2="307.8" y2="494.9" stroke="#3a3a3a" stroke-width="1.2"/>
<text x="299.8" y="497.9" font-size="7.3" text-anchor="end" font-weight="normal" font-style="normal" fill="#222222">0.4</text>
<line x1="305.2" y1="482.5" x2="307.8" y2="482.5" stroke="#3a3a3a" stroke-width="1.2"/>
<line x1="303.0" y1="470.2" x2="307.8" y2="470.2" stroke="#3a3a3a" stroke-width="1.2"/>
<text x="299.8" y="473.1" font-size="7.3" text-anchor="end" font-weight="normal" font-style="normal" fill="#222222">0.6</text>
<line x1="305.2" y1="457.8" x2="307.8" y2="457.8" stroke="#3a3a3a" stroke-width="1.2"/>
<line x1="303.0" y1="445.4" x2="307.8" y2="445.4" stroke="#3a3a3a" stroke-width="1.2"/>
<text x="299.8" y="448.4" font-size="7.3" text-anchor="end" font-weight="normal" font-style="normal" fill="#222222">0.8</text>
<line x1="305.2" y1="433.1" x2="307.8" y2="433.1" stroke="#3a3a3a" stroke-width="1.2"/>
<line x1="303.0" y1="420.7" x2="307.8" y2="420.7" stroke="#3a3a3a" stroke-width="1.2"/>
<text x="299.8" y="423.7" font-size="7.3" text-anchor="end" font-weight="normal" font-style="normal" fill="#222222">1.0</text>
<line x1="305.2" y1="408.3" x2="307.8" y2="408.3" stroke="#3a3a3a" stroke-width="1.2"/>
<line x1="307.8" y1="544.2" x2="307.8" y2="548.7" stroke="#3a3a3a" stroke-width="1.2"/>
<line x1="323.9" y1="544.2" x2="323.9" y2="548.7" stroke="#3a3a3a" stroke-width="1.2"/>
<line x1="339.9" y1="544.2" x2="339.9" y2="548.7" stroke="#3a3a3a" stroke-width="1.2"/>
<line x1="356.0" y1="544.2" x2="356.0" y2="548.7" stroke="#3a3a3a" stroke-width="1.2"/>
<line x1="372.1" y1="544.2" x2="372.1" y2="548.7" stroke="#3a3a3a" stroke-width="1.2"/>
<line x1="388.2" y1="544.2" x2="388.2" y2="548.7" stroke="#3a3a3a" stroke-width="1.2"/>
<line x1="404.2" y1="544.2" x2="404.2" y2="548.7" stroke="#3a3a3a" stroke-width="1.2"/>
<line x1="420.3" y1="544.2" x2="420.3" y2="548.7" stroke="#3a3a3a" stroke-width="1.2"/>
<line x1="436.4" y1="544.2" x2="436.4" y2="548.7" stroke="#3a3a3a" stroke-width="1.2"/>
<line x1="452.5" y1="544.2" x2="452.5" y2="548.7" stroke="#3a3a3a" stroke-width="1.2"/>
<line x1="468.6" y1="544.2" x2="468.6" y2="548.7" stroke="#3a3a3a" stroke-width="1.2"/>
<line x1="484.6" y1="544.2" x2="484.6" y2="548.7" stroke="#3a3a3a" stroke-width="1.2"/>
<line x1="500.7" y1="544.2" x2="500.7" y2="548.7" stroke="#3a3a3a" stroke-width="1.2"/>
<line x1="516.8" y1="544.2" x2="516.8" y2="548.7" stroke="#3a3a3a" stroke-width="1.2"/>
<text x="307.8" y="558.5" font-size="7.4" text-anchor="middle" font-weight="normal" font-style="normal" fill="#222222">0</text>
<text x="339.9" y="558.5" font-size="7.4" text-anchor="middle" font-weight="normal" font-style="normal" fill="#222222">10</text>
<text x="372.1" y="558.5" font-size="7.4" text-anchor="middle" font-weight="normal" font-style="normal" fill="#222222">20</text>
<text x="404.2" y="558.5" font-size="7.4" text-anchor="middle" font-weight="normal" font-style="normal" fill="#222222">30</text>
<text x="436.4" y="558.5" font-size="7.4" text-anchor="middle" font-weight="normal" font-style="normal" fill="#222222">40</text>
<text x="468.6" y="558.5" font-size="7.4" text-anchor="middle" font-weight="normal" font-style="normal" fill="#222222">50</text>
<text x="500.7" y="558.5" font-size="7.4" text-anchor="middle" font-weight="normal" font-style="normal" fill="#222222">60</text>
<text x="292.3" y="572.5" font-size="7.2" text-anchor="start" font-weight="bold" font-style="normal" fill="#222222" textLength="24.2" lengthAdjust="spacingAndGlyphs">SCC1-C</text>
<text x="413.8" y="574.2" font-size="7.6" text-anchor="middle" font-weight="normal" font-style="normal" fill="#222222">Days</text>
<text transform="translate(275.5,481.0) rotate(-90)" x="0" y="2.6" font-size="7.4" text-anchor="middle" fill="#222222">Survival probability</text>
<path d="M308.0,420.3 L417.6,420.3 L417.6,429.5 L517.1,429.5" fill="none" stroke="#a84436" stroke-width="1.5" stroke-linejoin="miter"/>
<path d="M308.0,420.3 L417.6,420.3 L417.6,429.5 L430.6,429.5 L430.6,458.2 L446.4,458.2 L446.4,486.1 L460.0,486.1 L460.0,500.8 L517.1,500.8" fill="none" stroke="#2e9048" stroke-width="1.5" stroke-linejoin="miter"/>
<path d="M308.0,420.3 L372.3,420.3 L372.3,429.5 L401.2,429.5 L401.2,458.2 L485.4,458.2 L485.4,475.1 L517.1,475.1" fill="none" stroke="#c292d2" stroke-width="1.5" stroke-linejoin="miter"/>
<path d="M308.0,420.3 L385.0,420.3 L385.0,448.6 L401.2,448.6 L401.2,486.1 L427.1,486.1 L427.1,496.1 L430.6,496.1 L430.6,505.6 L460.0,505.6 L460.0,543.9" fill="none" stroke="#ec9a55" stroke-width="1.5" stroke-linejoin="miter"/>
<text x="313.5" y="498.3" font-size="6.0" text-anchor="start" font-weight="normal" font-style="normal" fill="#3a3a3a" class="light"><tspan font-style="italic">n</tspan> = 13 each group</text>
<text x="313.5" y="505.2" font-size="6.0" text-anchor="start" font-weight="normal" font-style="normal" fill="#2a2a2a" class="light">Log rank <tspan font-style="italic">P</tspan> &lt; 0.001</text>
<rect x="311.2" y="506.8" width="70.1" height="32.8" fill="#fff" stroke="#222" stroke-width="1.2"/>
<line x1="313.5" y1="513.5" x2="324.2" y2="513.5" stroke="#a84436" stroke-width="1.6"/>
<text x="328.8" y="515.6" font-size="6.1" text-anchor="start" font-weight="normal" font-style="normal" fill="#151515" class="light">12 Gy + cetuximab</text>
<line x1="313.5" y1="521.1" x2="324.2" y2="521.1" stroke="#2e9048" stroke-width="1.6"/>
<text x="328.8" y="523.2" font-size="6.1" text-anchor="start" font-weight="normal" font-style="normal" fill="#151515" class="light">12 Gy + IgG</text>
<line x1="313.5" y1="528.0" x2="324.2" y2="528.0" stroke="#c292d2" stroke-width="1.6"/>
<text x="328.8" y="530.1" font-size="6.1" text-anchor="start" font-weight="normal" font-style="normal" fill="#151515" class="light">Cetuximab</text>
<line x1="313.5" y1="534.9" x2="324.2" y2="534.9" stroke="#ec9a55" stroke-width="1.6"/>
<text x="328.8" y="537.0" font-size="6.1" text-anchor="start" font-weight="normal" font-style="normal" fill="#151515" class="light">IgG</text>
<path d="M394.5,508.7 H395.9 V529.6 H394.5" fill="none" stroke="#2a2a2a" stroke-width="1.15"/>
<circle cx="399.0" cy="520.9" r="1.0" fill="#111"/>
<path d="M402.5,509.2 H403.9 V539.7 H402.5" fill="none" stroke="#2a2a2a" stroke-width="1.15"/>
<circle cx="407.3" cy="521.9" r="1.0" fill="#111"/>
<circle cx="407.3" cy="525.3" r="1.0" fill="#111"/>
<circle cx="407.3" cy="528.7" r="1.0" fill="#111"/>
<path d="M421.4,518.8 H422.8 V539.7 H421.4" fill="none" stroke="#2a2a2a" stroke-width="1.15"/>
<circle cx="425.9" cy="529.3" r="1.0" fill="#111"/>
<path d="M384.1,508.7 H385.5 V522.9 H384.1" fill="none" stroke="#2a2a2a" stroke-width="1.15"/>
<text x="386.8" y="518.8" font-size="5.8" text-anchor="start" font-weight="normal" font-style="normal" fill="#222" class="light">NS</text>
<path d="M410.6,518.8 H412.0 V532.3 H410.6" fill="none" stroke="#2a2a2a" stroke-width="1.15"/>
<text x="413.4" y="528.2" font-size="5.8" text-anchor="start" font-weight="normal" font-style="normal" fill="#222" class="light">NS</text>
<path d="M429.1,525.6 H430.5 V540.1 H429.1" fill="none" stroke="#2a2a2a" stroke-width="1.15"/>
<text x="431.8" y="535.6" font-size="5.8" text-anchor="start" font-weight="normal" font-style="normal" fill="#222" class="light">NS</text>
</svg></body></html>
